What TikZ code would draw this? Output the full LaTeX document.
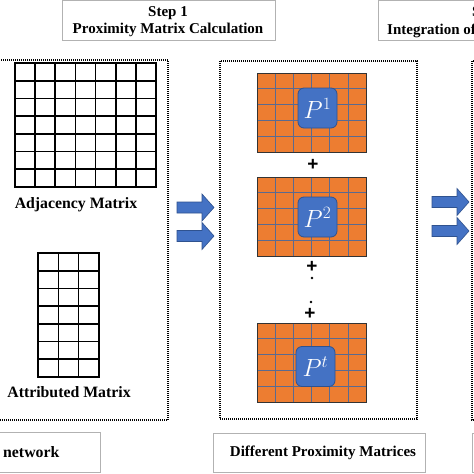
\documentclass[tikz,border=0pt]{standalone}
\usepackage{fontspec}
\setmainfont{Liberation Serif}
\newfontfamily\plusfont{Liberation Sans}
\definecolor{orangeM}{HTML}{ED7D31}
\definecolor{gridB}{HTML}{5A6A90}
\definecolor{blueP}{HTML}{4472C4}
\definecolor{blueB}{HTML}{2F528F}
\newcommand\blockarr[2]{% #1 = x tail, #2 = y center
  \filldraw[arrowstyle] (#1,#2-5.5) -- (#1+25,#2-5.5) -- (#1+25,#2-13.5) -- (#1+37,#2) -- (#1+25,#2+13.5) -- (#1+25,#2+5.5) -- (#1,#2+5.5) -- cycle;}
\tikzset{
  titlebox/.style={draw=gray!60, line width=0.8pt},
  dotbox/.style={draw=black, line width=1.3pt, dash pattern=on 1pt off 1pt},
  lbl/.style={font=\bfseries\fontsize{15}{16.5}\selectfont, align=center, inner sep=0pt},
  mlbl/.style={font=\bfseries\fontsize{15.8}{17}\selectfont, inner sep=0pt},
  arrowstyle/.style={fill=blueP, draw=blueB, line width=0.6pt},
  pbox/.style={fill=blueP, draw=blueB, line width=0.8pt, rounded corners=6pt},
  plbl/.style={text=white, font=\fontsize{23}{23}\selectfont, inner sep=0pt},
  plus/.style={font=\plusfont\bfseries\fontsize{19}{19}\selectfont, inner sep=0pt},
  blk/.style={line width=1.6pt},
}
\begin{document}
\begin{tikzpicture}[x=1pt,y=-1pt]
\clip (0,0) rectangle (474,474);
\fill[white] (0,0) rectangle (474,474);
% title boxes
\draw[titlebox] (62,0.8) rectangle (275,40.5);
\node[lbl] (t1) at (168,21.5) {Step 1\\Proximity Matrix Calculation};
\draw[titlebox] (378,0.8) rectangle (620,40.5);
\node[lbl, anchor=north west] (t2b) at (387,23.5) {Integration of Proximity Matrices};
\node[lbl, anchor=north west] (t2a) at (472,6) {Step 2};
% dotted boxes
\draw[dotbox] (-10,60) rectangle (168,420);
\draw[dotbox] (220,61) rectangle (417,419);
\draw[dotbox] (472,61) rectangle (620,420);
% adjacency matrix
\draw[blk] (15,63) rectangle (156,187);
\foreach \i in {1,...,6} {
  \draw[blk] (15+20.14*\i,63) -- (15+20.14*\i,187);
  \draw[blk] (15,63+17.71*\i) -- (156,63+17.71*\i);
}
\node[mlbl] (adj) at (76,205) {Adjacency Matrix};
% attributed matrix
\draw[blk] (38,253) rectangle (99,377);
\foreach \i in {1,2} \draw[blk] (38+20.33*\i,253) -- (38+20.33*\i,377);
\foreach \j in {1,...,6} \draw[blk] (38,253+17.71*\j) -- (99,253+17.71*\j);
\node[mlbl] (att) at (69,392) {Attributed Matrix};
% left arrows
\blockarr{177}{207.5}
\blockarr{177}{236}
% right arrows
\blockarr{432}{202}
\blockarr{432}{231}
% orange matrices
\foreach \y/\px/\py/\lab in {73/317.5/108/1, 177/317.5/217/2, 323/315.5/366.5/t} {
  \fill[orangeM] (257,\y) rectangle (366,\y+79);
  \foreach \i in {1,...,5} \draw[gridB, line width=0.7pt] (257+18.17*\i,\y) -- (257+18.17*\i,\y+79);
  \foreach \j in {1,...,4} \draw[gridB, line width=0.7pt] (257,\y+15.8*\j) -- (366,\y+15.8*\j);
  \draw[black!80, line width=1pt] (257,\y) rectangle (366,\y+79);
  \draw[pbox] (\px-19.5,\py-20) rectangle (\px+19.5,\py+20);
  \node[plbl] (p\lab) at (\px,\py) {$P^{\lab}$};
}
% plus signs and dots
\node[plus] (pl1) at (313,165) {+};
\node[plus] (pl2) at (312,267) {+};
\fill (312,278) circle (1.4);
\fill (311,302) circle (1.4);
\node[plus] (pl3) at (310,314) {+};
% bottom boxes
\draw[titlebox] (-10,432) rectangle (100,472.5);
\node[mlbl, anchor=west] (bl) at (3,452.5) {network};
\draw[titlebox] (213,433) rectangle (425,472.5);
\node[lbl] (bm) at (323,453) {Different Proximity Matrices};
\draw[titlebox] (472,433) rectangle (620,472.5);
\end{tikzpicture}
\end{document}
